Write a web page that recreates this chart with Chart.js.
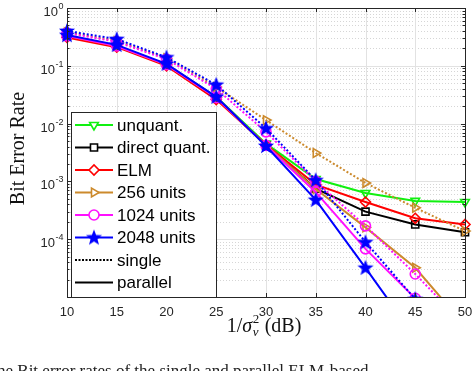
<!DOCTYPE html>
<html>
<head>
<meta charset="utf-8">
<script src="https://cdn.jsdelivr.net/npm/chart.js@4.4.1/dist/chart.umd.min.js"></script>
<style>
html, body { margin: 0; padding: 0; background: #fff; overflow: hidden; width: 474px; height: 371px; }
#wrap { position: absolute; left: 0; top: 0; width: 474px; height: 371px; }
#caption { position: absolute; left: -3px; top: 361px; font: 17px "Liberation Serif", serif; color: #222; white-space: nowrap; }
</style>
</head>
<body>
<div id="wrap"><canvas id="berChart" width="474" height="371"></canvas></div>
<div id="caption">he Bit error rates of the single and parallel ELM-based</div>
<script>
// SNR axis (dB)
const snrDb = [10, 15, 20, 25, 30, 35, 40, 45, 50];
const xTickValues = [10, 15, 20, 25, 30, 35, 40, 45, 50];
const yTickPowers = [0, -1, -2, -3, -4];

// BER values
const unquant        = [0.33, 0.22, 0.105, 0.029, 0.0045, 0.0011, 0.00063, 0.00046, 0.00044];
const directQuant    = [0.33, 0.22, 0.105, 0.028, 0.0042, 0.00075, 0.00030, 0.00018, 0.000132];
const elm            = [0.31, 0.21, 0.100, 0.026, 0.0043, 0.00088, 0.00044, 0.00023, 0.00018];
const units256Single    = [0.38, 0.27, 0.135, 0.043, 0.0115, 0.0031, 0.00094, 0.00035, 0.000138];
const units256Parallel  = [0.33, 0.22, 0.105, 0.028, 0.0042, 0.00074, 0.00016, 0.000032, 0.0000032];
const units1024Single   = [0.37, 0.26, 0.130, 0.040, 0.0072, 0.0010, 0.00017, 0.000025, 0.0000032];
const units1024Parallel = [0.33, 0.22, 0.105, 0.028, 0.0042, 0.00065, 0.000068, 0.0000095, 0.0000012];
const units2048Single   = [0.40, 0.29, 0.140, 0.047, 0.0083, 0.00105, 0.000089, 0.0000092, 0.0000009];
const units2048Parallel = [0.34, 0.23, 0.108, 0.029, 0.0041, 0.00048, 0.000032, 0.000002, 0.00000012];

const GREEN = '#10f010';
const BLACK = '#000000';
const RED = '#ff0000';
const ORANGE = '#cc8a2c';
const MAGENTA = '#ff10ff';
const BLUE = '#0000ff';
const AXIS = '#262626';

function makeStar(color) {
    const c = document.createElement('canvas');
    c.width = 18; c.height = 18;
    const g = c.getContext('2d');
    g.beginPath();
    for (let i = 0; i < 10; i++) {
        const r = i % 2 === 0 ? 8.5 : 3.6;
        const a = -Math.PI / 2 + i * Math.PI / 5;
        const px = 9 + r * Math.cos(a), py = 9.4 + r * Math.sin(a);
        if (i === 0) g.moveTo(px, py); else g.lineTo(px, py);
    }
    g.closePath();
    g.fillStyle = color;
    g.fill();
    return c;
}
const starImg = makeStar(BLUE);

function series(label, values, color, style, rotation, single) {
    return {
        label: label,
        data: snrDb.map((x, i) => ({ x: x, y: values[i] })),
        borderColor: color,
        backgroundColor: 'rgba(0,0,0,0)',
        borderWidth: 2,
        borderDash: single ? [2, 2] : [],
        pointStyle: style,
        pointRotation: rotation,
        pointRadius: 5,
        pointBorderColor: color,
        pointBackgroundColor: 'rgba(0,0,0,0)',
        pointBorderWidth: 1.6,
        tension: 0,
        single: single,
        clip: { left: 10, right: 10, top: 10, bottom: 0 }
    };
}

const datasets = [
    series('unquant.', unquant, GREEN, 'triangle', 180, false),
    series('direct quant.', directQuant, BLACK, 'rect', 0, false),
    series('ELM', elm, RED, 'rectRot', 0, false),
    series('256 units', units256Single, ORANGE, 'triangle', 90, true),
    series('256 units', units256Parallel, ORANGE, 'triangle', 90, false),
    series('1024 units', units1024Single, MAGENTA, 'circle', 0, true),
    series('1024 units', units1024Parallel, MAGENTA, 'circle', 0, false),
    series('2048 units', units2048Single, BLUE, starImg, 0, true),
    series('2048 units', units2048Parallel, BLUE, starImg, 0, false)
];
// later datasets on top, as in the original plot
datasets.forEach((d, i) => { d.order = datasets.length - i; });

const gridPlugin = {
    id: 'gridPlugin',
    beforeDatasetsDraw(chart) {
        const { ctx, chartArea: a, scales: { x, y } } = chart;
        ctx.save();
        ctx.lineWidth = 1;
        // minor y grid
        ctx.strokeStyle = '#d6d6d6';
        ctx.setLineDash([1, 2]);
        for (let p = -5; p < 0; p++) {
            for (let k = 2; k <= 9; k++) {
                const py = Math.round(y.getPixelForValue(k * Math.pow(10, p))) + 0.5;
                ctx.beginPath(); ctx.moveTo(a.left, py); ctx.lineTo(a.right, py); ctx.stroke();
            }
        }
        ctx.setLineDash([]);
        ctx.strokeStyle = '#e2e2e2';
        yTickPowers.forEach(p => {
            const py = Math.round(y.getPixelForValue(Math.pow(10, p))) + 0.5;
            ctx.beginPath(); ctx.moveTo(a.left, py); ctx.lineTo(a.right, py); ctx.stroke();
        });
        xTickValues.forEach(v => {
            const px = Math.round(x.getPixelForValue(v)) + 0.5;
            ctx.beginPath(); ctx.moveTo(px, a.top); ctx.lineTo(px, a.bottom); ctx.stroke();
        });
        ctx.restore();
    }
};

const framePlugin = {
    id: 'framePlugin',
    afterDatasetsDraw(chart) {
        const { ctx, chartArea: a, scales: { x, y } } = chart;
        ctx.save();
        ctx.strokeStyle = AXIS;
        ctx.lineWidth = 1;
        ctx.strokeRect(Math.round(a.left) + 0.5, Math.round(a.top) + 0.5,
            Math.round(a.right - a.left), Math.round(a.bottom - a.top));
        // x ticks
        xTickValues.forEach(v => {
            const px = Math.round(x.getPixelForValue(v)) + 0.5;
            ctx.beginPath();
            ctx.moveTo(px, a.bottom); ctx.lineTo(px, a.bottom - 4);
            ctx.moveTo(px, a.top); ctx.lineTo(px, a.top + 4);
            ctx.stroke();
        });
        // y ticks, major + minor
        for (let p = -5; p <= 0; p++) {
            for (let k = 1; k <= 9; k++) {
                const v = k * Math.pow(10, p);
                if (v > 1 || v < y.min) continue;
                const py = Math.round(y.getPixelForValue(v)) + 0.5;
                const len = k === 1 ? 4 : 2.5;
                ctx.beginPath();
                ctx.moveTo(a.left, py); ctx.lineTo(a.left + len, py);
                ctx.moveTo(a.right, py); ctx.lineTo(a.right - len, py);
                ctx.stroke();
            }
        }
        // x tick labels
        ctx.fillStyle = AXIS;
        ctx.font = '13px "Liberation Sans", Arial, sans-serif';
        ctx.textAlign = 'center';
        ctx.textBaseline = 'middle';
        xTickValues.forEach(v => ctx.fillText(String(v), x.getPixelForValue(v), 312));
        // y tick labels 10^p
        ctx.textAlign = 'left';
        ctx.textBaseline = 'alphabetic';
        yTickPowers.forEach(p => {
            const py = y.getPixelForValue(Math.pow(10, p));
            const exp = p === 0 ? '0' : '-' + Math.abs(p);
            ctx.font = '13px "Liberation Sans", Arial, sans-serif';
            const wb = ctx.measureText('10').width;
            ctx.font = '9px "Liberation Sans", Arial, sans-serif';
            const we = ctx.measureText(exp).width;
            const x0 = 63 - wb - we;
            ctx.font = '13px "Liberation Sans", Arial, sans-serif';
            ctx.fillText('10', x0, py + 8);
            ctx.font = '9px "Liberation Sans", Arial, sans-serif';
            ctx.fillText(exp, x0 + wb + 0.5, py + 1);
        });
        // y title
        ctx.fillStyle = '#111';
        ctx.save();
        ctx.translate(24, (a.top + a.bottom) / 2 - 4);
        ctx.rotate(-Math.PI / 2);
        ctx.font = '20px "Liberation Serif", serif';
        ctx.textAlign = 'center';
        ctx.fillText('Bit Error Rate', 0, 0);
        ctx.restore();
        // x title: 1/σ_v^2 (dB)
        const big = '20px "Liberation Serif", serif';
        const bigIt = 'italic 20px "Liberation Serif", serif';
        const small = '13px "Liberation Serif", serif';
        const smallIt = 'italic 13px "Liberation Serif", serif';
        ctx.font = big; const w1 = ctx.measureText('1/').width;
        ctx.font = bigIt; const w2 = ctx.measureText('σ').width;
        ctx.font = smallIt; const w3 = ctx.measureText('v').width;
        ctx.font = small; const w4 = ctx.measureText('2').width;
        ctx.font = big; const w5 = ctx.measureText(' (dB)').width;
        const total = w1 + w2 + Math.max(w3, w4) + 1 + w5;
        let cx = (a.left + a.right) / 2 - total / 2 - 2;
        const by = 332;
        ctx.textAlign = 'left';
        ctx.font = big; ctx.fillText('1/', cx, by); cx += w1;
        ctx.font = bigIt; ctx.fillText('σ', cx, by); cx += w2 + 0.5;
        ctx.font = smallIt; ctx.fillText('v', cx, by + 4);
        ctx.font = small; ctx.fillText('2', cx, by - 9);
        cx += Math.max(w3, w4) + 0.5;
        ctx.font = big; ctx.fillText(' (dB)', cx, by);
        ctx.restore();
    }
};

const legendPlugin = {
    id: 'boxLegend',
    afterDraw(chart) {
        const { ctx, chartArea: a } = chart;
        const items = chart.data.datasets.filter(d => !d.single).map(d => ({
            text: d.label, color: d.borderColor, style: d.pointStyle, rot: d.pointRotation, dash: []
        }));
        items.push({ text: 'single', color: BLACK, style: null, dash: [2, 1.5] });
        items.push({ text: 'parallel', color: BLACK, style: null, dash: [] });
        const left = 71, top = 112, right = 216, bottom = Math.round(a.bottom);
        ctx.save();
        ctx.fillStyle = '#fff';
        ctx.fillRect(left, top, right - left, bottom - top);
        ctx.strokeStyle = AXIS;
        ctx.lineWidth = 1;
        ctx.strokeRect(left + 0.5, top + 0.5, right - left, bottom - top);
        ctx.font = '17px "Liberation Sans", Arial, sans-serif';
        ctx.textBaseline = 'middle';
        ctx.textAlign = 'left';
        items.forEach((it, i) => {
            const cy = 125 + i * 22.5;
            ctx.strokeStyle = it.color;
            ctx.lineWidth = 2;
            ctx.setLineDash(it.dash);
            ctx.beginPath(); ctx.moveTo(75, cy); ctx.lineTo(113, cy); ctx.stroke();
            ctx.setLineDash([]);
            if (it.style) {
                ctx.lineWidth = 1.6;
                ctx.fillStyle = '#fff';
                Chart.helpers.drawPoint(ctx, { pointStyle: it.style, radius: 5, rotation: it.rot, borderWidth: 1.6 }, 94, cy);
            }
            ctx.fillStyle = '#000';
            ctx.fillText(it.text, 117, cy + 1);
        });
        ctx.restore();
    }
};

new Chart(document.getElementById('berChart'), {
    type: 'line',
    data: { datasets: datasets },
    options: {
        responsive: false,
        animation: false,
        devicePixelRatio: 1,
        layout: { padding: { left: 67, right: 9, top: 8, bottom: 74 } },
        scales: {
            x: { type: 'linear', min: 10, max: 50, display: false },
            y: { type: 'logarithmic', min: 1e-5, max: 1, display: false }
        },
        plugins: { legend: { display: false }, tooltip: { enabled: false } }
    },
    plugins: [gridPlugin, framePlugin, legendPlugin]
});
</script>
</body>
</html>
